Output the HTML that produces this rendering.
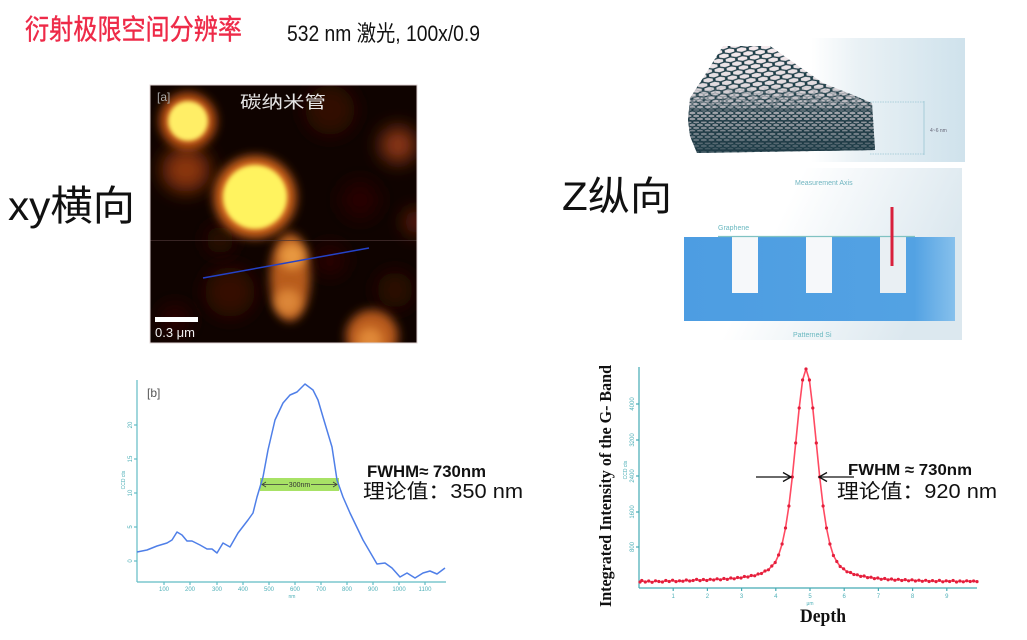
<!DOCTYPE html>
<html>
<head>
<meta charset="utf-8">
<style>
  html,body{margin:0;padding:0;background:#ffffff;}
  body{width:1027px;height:640px;overflow:hidden;position:relative;}
  svg{display:block;}
  .cjk{font-family:"Liberation Sans","Noto Sans CJK SC",sans-serif;}
  .tick{font-family:"Liberation Sans",sans-serif;font-size:6px;fill:#4fb0b8;}
</style>
</head>
<body>
<svg width="1027" height="640" viewBox="0 0 1027 640" xmlns="http://www.w3.org/2000/svg">
  <defs>
    <filter id="bS" x="-50%" y="-50%" width="200%" height="200%"><feGaussianBlur stdDeviation="2"/></filter>
    <filter id="bM" x="-50%" y="-50%" width="200%" height="200%"><feGaussianBlur stdDeviation="5"/></filter>
    <filter id="bL" x="-80%" y="-80%" width="260%" height="260%"><feGaussianBlur stdDeviation="9"/></filter>
    <clipPath id="afmClip"><rect x="150" y="85" width="267" height="258"/></clipPath>
    <linearGradient id="gPanel" x1="0" y1="0" x2="1" y2="0">
      <stop offset="0" stop-color="#ffffff"/>
      <stop offset="0.45" stop-color="#ffffff"/>
      <stop offset="0.62" stop-color="#e9f1f5"/>
      <stop offset="1" stop-color="#cfe2ec"/>
    </linearGradient>
    <linearGradient id="gPanel2" x1="0" y1="0" x2="1" y2="0.3">
      <stop offset="0" stop-color="#ffffff"/>
      <stop offset="0.4" stop-color="#ffffff"/>
      <stop offset="1" stop-color="#dce8ef"/>
    </linearGradient>
    <linearGradient id="gBlue" x1="0" y1="0" x2="1" y2="0">
      <stop offset="0" stop-color="#4d9de2"/>
      <stop offset="0.85" stop-color="#53a2e3"/>
      <stop offset="1" stop-color="#86c0ec"/>
    </linearGradient>
    <linearGradient id="gDark" gradientUnits="userSpaceOnUse" x1="0" y1="45" x2="0" y2="153">
      <stop offset="0" stop-color="#1c3b46" stop-opacity="0"/>
      <stop offset="0.4" stop-color="#1c3b46" stop-opacity="0.1"/>
      <stop offset="0.75" stop-color="#1c3b46" stop-opacity="0.45"/>
      <stop offset="1" stop-color="#1c3b46" stop-opacity="0.85"/>
    </linearGradient>
    <pattern id="hexA" patternUnits="userSpaceOnUse" width="6.93" height="12" patternTransform="translate(723,47) rotate(-6) scale(1.75,0.75)">
      <rect width="6.93" height="12" fill="#f6ecef"/>
      <path d="M3.46,2 L6.93,4 L6.93,8 L3.46,10 L0,8 L0,4 Z M3.46,0 L3.46,2 M3.46,10 L3.46,12" fill="none" stroke="#1f3e48" stroke-width="1.5"/>
    </pattern>
    <pattern id="hexB" patternUnits="userSpaceOnUse" width="6.93" height="12" patternTransform="translate(700,95) scale(1.1,0.5)">
      <rect width="6.93" height="12" fill="#e2d6db"/>
      <path d="M3.46,2 L6.93,4 L6.93,8 L3.46,10 L0,8 L0,4 Z M3.46,0 L3.46,2 M3.46,10 L3.46,12" fill="none" stroke="#1e3a44" stroke-width="1.9"/>
    </pattern>
    <linearGradient id="gMaskB" gradientUnits="userSpaceOnUse" x1="0" y1="85" x2="0" y2="115">
      <stop offset="0" stop-color="#fff" stop-opacity="0"/>
      <stop offset="1" stop-color="#fff" stop-opacity="1"/>
    </linearGradient>
    <mask id="maskB"><rect x="680" y="38" width="200" height="120" fill="url(#gMaskB)"/></mask>
    <clipPath id="stackClip">
      <polygon points="723,46 770,46 797,65 823,83 853,95 872,103 875,150 697,153 690,136 688,120 690,98 703,78"/>
    </clipPath>
    <marker id="dot" viewBox="0 0 4 4" refX="2" refY="2" markerWidth="4" markerHeight="4" markerUnits="userSpaceOnUse">
      <circle cx="2" cy="2" r="1.6" fill="#e41f3c"/>
    </marker>
  </defs>

  <!-- Title -->
  <text class="cjk" x="25" y="39" font-size="28" fill="#ee2a48" stroke="#ee2a48" stroke-width="0.4" textLength="217" lengthAdjust="spacingAndGlyphs">衍射极限空间分辨率</text>
  <text class="cjk" x="287" y="41" font-size="22" fill="#111" textLength="193" lengthAdjust="spacingAndGlyphs">532 nm 激光, 100x/0.9</text>

  <!-- Side labels -->
  <text class="cjk" x="8" y="220" font-size="41" fill="#111" textLength="127" lengthAdjust="spacingAndGlyphs">xy横向</text>
  <text class="cjk" x="562" y="210" font-size="40" fill="#111" textLength="110" lengthAdjust="spacingAndGlyphs">Z纵向</text>

  <!-- AFM image -->
  <g clip-path="url(#afmClip)">
    <rect x="150" y="85" width="267" height="258" fill="#0f0300"/>
    <circle cx="330" cy="110" r="25" fill="#300700" filter="url(#bL)"/>
    <circle cx="230" cy="292" r="25" fill="#340900" filter="url(#bL)"/>
    <circle cx="175" cy="320" r="16" fill="#2c0600" filter="url(#bL)"/>
    <circle cx="360" cy="200" r="20" fill="#280500" filter="url(#bL)"/>
    <circle cx="395" cy="290" r="18" fill="#2e0700" filter="url(#bL)"/>
    <circle cx="220" cy="240" r="14" fill="#2e0700" filter="url(#bL)"/>
    <circle cx="330" cy="260" r="16" fill="#2a0600" filter="url(#bL)"/>
    <ellipse cx="186" cy="170" rx="24" ry="22" fill="#8a3410" filter="url(#bL)"/>
    <circle cx="188" cy="121" r="28" fill="#c85818" filter="url(#bM)"/>
    <circle cx="188" cy="121" r="20" fill="#ffee66" filter="url(#bS)"/>
    <circle cx="255" cy="197" r="41" fill="#d4661a" filter="url(#bM)"/>
    <circle cx="255" cy="197" r="32" fill="#fff35e" filter="url(#bS)"/>
    <ellipse cx="290" cy="277" rx="20" ry="44" fill="#b85c1c" filter="url(#bM)"/>
    <circle cx="292" cy="256" r="13" fill="#e8983f" filter="url(#bM)"/>
    <circle cx="288" cy="302" r="13" fill="#dc8638" filter="url(#bM)"/>
    <circle cx="398" cy="145" r="18" fill="#8e3812" filter="url(#bL)"/>
    <circle cx="372" cy="336" r="26" fill="#b85a1c" filter="url(#bM)"/>
    <circle cx="370" cy="340" r="13" fill="#e08838" filter="url(#bM)"/>
    <circle cx="416" cy="222" r="12" fill="#6a2008" filter="url(#bL)"/>
    <line x1="150" y1="240.5" x2="417" y2="240.5" stroke="#4a3434" stroke-width="1" opacity="0.7"/>
    <line x1="203" y1="278" x2="369" y2="248" stroke="#2442c8" stroke-width="1.5"/>
    <rect x="155" y="317" width="43" height="5" fill="#ffffff"/>
    <text x="155" y="337" font-family="Liberation Sans,sans-serif" font-size="13" fill="#f0f0f0">0.3 μm</text>
    <text x="157" y="101" font-family="Liberation Sans,sans-serif" font-size="12" fill="#a8a8a8">[a]</text>
    <text class="cjk" x="240" y="108" font-size="17" fill="#e4e4e4" textLength="86" lengthAdjust="spacingAndGlyphs">碳纳米管</text>
  </g>
  <rect x="150" y="85" width="267" height="258" fill="none" stroke="#e0d6d6" stroke-width="1"/>

  <!-- Graphene stack panel -->
  <rect x="685" y="38" width="280" height="124" fill="url(#gPanel)"/>
  <g clip-path="url(#stackClip)">
    <rect x="680" y="38" width="200" height="120" fill="url(#hexA)"/>
    <rect x="680" y="38" width="200" height="120" fill="url(#hexB)" mask="url(#maskB)"/>
    <rect x="680" y="38" width="200" height="120" fill="url(#gDark)"/>
    <g stroke="#1e3a44" stroke-width="1.6" opacity="0.75">
      <line x1="688" y1="110" x2="873" y2="110"/>
      <line x1="688" y1="121" x2="874" y2="121"/>
      <line x1="690" y1="132" x2="874" y2="132"/>
      <line x1="692" y1="142" x2="875" y2="142"/>
      <line x1="696" y1="150" x2="875" y2="150"/>
    </g>
  </g>
  <g stroke="#9cc6d4" stroke-width="0.8">
    <line x1="870" y1="102" x2="925" y2="102" stroke-dasharray="1.5 1"/>
    <line x1="870" y1="154" x2="925" y2="154" stroke-dasharray="1.5 1"/>
    <line x1="924" y1="101" x2="924" y2="155"/>
  </g>
  <text x="930" y="132" font-family="Liberation Sans,sans-serif" font-size="5" fill="#667">4~6 nm</text>

  <!-- Measurement axis panel -->
  <rect x="683" y="168" width="279" height="172" fill="url(#gPanel2)"/>
  <rect x="684" y="237" width="271" height="84" fill="url(#gBlue)"/>
  <rect x="732" y="237" width="26" height="56" fill="#f6f8fa"/>
  <rect x="806" y="237" width="26" height="56" fill="#f6f8fa"/>
  <rect x="880" y="237" width="26" height="56" fill="#e9eff3"/>
  <line x1="718" y1="236.5" x2="915" y2="236.5" stroke="#80c2c2" stroke-width="1.3"/>
  <line x1="892" y1="207" x2="892" y2="266" stroke="#d8203c" stroke-width="3"/>
  <text x="718" y="230" font-family="Liberation Sans,sans-serif" font-size="7" fill="#6ab8c0">Graphene</text>
  <text x="795" y="185" font-family="Liberation Sans,sans-serif" font-size="7" fill="#70b5c0">Measurement Axis</text>
  <text x="793" y="337" font-family="Liberation Sans,sans-serif" font-size="7" fill="#6ab8c0">Patterned Si</text>

  <!-- Left chart -->
  <g stroke="#62bcc4" stroke-width="1.2" fill="none">
    <line x1="137" y1="380" x2="137" y2="582"/>
    <line x1="137" y1="582" x2="446" y2="582"/>
    <line x1="164" y1="582" x2="164" y2="585"/>
    <line x1="190" y1="582" x2="190" y2="585"/>
    <line x1="217" y1="582" x2="217" y2="585"/>
    <line x1="243" y1="582" x2="243" y2="585"/>
    <line x1="269" y1="582" x2="269" y2="585"/>
    <line x1="295" y1="582" x2="295" y2="585"/>
    <line x1="321" y1="582" x2="321" y2="585"/>
    <line x1="347" y1="582" x2="347" y2="585"/>
    <line x1="373" y1="582" x2="373" y2="585"/>
    <line x1="399" y1="582" x2="399" y2="585"/>
    <line x1="425" y1="582" x2="425" y2="585"/>
    <line x1="134" y1="425" x2="137" y2="425"/>
    <line x1="134" y1="459" x2="137" y2="459"/>
    <line x1="134" y1="493" x2="137" y2="493"/>
    <line x1="134" y1="527" x2="137" y2="527"/>
    <line x1="134" y1="561" x2="137" y2="561"/>
  </g>
  <g class="tick" text-anchor="middle">
    <text x="164" y="591">100</text><text x="190" y="591">200</text><text x="217" y="591">300</text>
    <text x="243" y="591">400</text><text x="269" y="591">500</text><text x="295" y="591">600</text>
    <text x="321" y="591">700</text><text x="347" y="591">800</text><text x="373" y="591">900</text>
    <text x="399" y="591">1000</text><text x="425" y="591">1100</text>
    <text x="292" y="598" font-size="5">nm</text>
    <text transform="translate(132,425) rotate(-90)">20</text>
    <text transform="translate(132,459) rotate(-90)">15</text>
    <text transform="translate(132,493) rotate(-90)">10</text>
    <text transform="translate(132,527) rotate(-90)">5</text>
    <text transform="translate(132,561) rotate(-90)">0</text>
    <text transform="translate(125,480) rotate(-90)" font-size="5">CCD cts</text>
  </g>
  <text x="147" y="397" font-family="Liberation Sans,sans-serif" font-size="12" fill="#555">[b]</text>
  <rect x="260" y="478" width="79" height="13" fill="#a8e266"/>
  <g stroke="#3a3a3a" stroke-width="0.8" fill="none">
    <line x1="262" y1="484.5" x2="288" y2="484.5"/>
    <polyline points="266,482 262,484.5 266,487"/>
    <line x1="311" y1="484.5" x2="337" y2="484.5"/>
    <polyline points="333,482 337,484.5 333,487"/>
  </g>
  <text x="299.5" y="487" text-anchor="middle" font-family="Liberation Sans,sans-serif" font-size="7" fill="#333">300nm</text>
  <polyline fill="none" stroke="#4f7fe8" stroke-width="1.5" stroke-linejoin="round"
    points="137,552 147,550 157,546 167,543 172,540 177,532 182,535 187,541 192,541 200,545 207,549 212,549 217,553 223,543 230,547 238,533 248,520 253,513 257,497 263,477 268,450 275,420 283,403 290,395 297,392 305,384 313,390 318,400 323,417 332,447 337,480 343,497 350,513 363,540 377,564 385,563 392,568 400,577 407,573 415,578 423,573 430,571 437,574 445,568"/>
  <text x="367" y="477" font-family="Liberation Sans,sans-serif" font-weight="bold" font-size="16.5" fill="#111" textLength="119" lengthAdjust="spacingAndGlyphs">FWHM≈ 730nm</text>
  <text class="cjk" x="363" y="498" font-size="20" fill="#111" textLength="160" lengthAdjust="spacingAndGlyphs">理论值：350 nm</text>

  <!-- Right chart -->
  <g stroke="#44aab3" stroke-width="1.2" fill="none">
    <line x1="639" y1="367" x2="639" y2="588"/>
    <line x1="639" y1="588" x2="977" y2="588"/>
    <line x1="673.2" y1="588" x2="673.2" y2="591"/>
    <line x1="707.4" y1="588" x2="707.4" y2="591"/>
    <line x1="741.6" y1="588" x2="741.6" y2="591"/>
    <line x1="775.8" y1="588" x2="775.8" y2="591"/>
    <line x1="810" y1="588" x2="810" y2="591"/>
    <line x1="844.2" y1="588" x2="844.2" y2="591"/>
    <line x1="878.4" y1="588" x2="878.4" y2="591"/>
    <line x1="912.6" y1="588" x2="912.6" y2="591"/>
    <line x1="946.8" y1="588" x2="946.8" y2="591"/>
    <line x1="636" y1="404" x2="639" y2="404"/>
    <line x1="636" y1="440" x2="639" y2="440"/>
    <line x1="636" y1="476" x2="639" y2="476"/>
    <line x1="636" y1="512" x2="639" y2="512"/>
    <line x1="636" y1="547" x2="639" y2="547"/>
  </g>
  <g class="tick" text-anchor="middle">
    <text x="673.2" y="598">1</text><text x="707.4" y="598">2</text><text x="741.6" y="598">3</text>
    <text x="775.8" y="598">4</text><text x="810" y="598">5</text><text x="844.2" y="598">6</text>
    <text x="878.4" y="598">7</text><text x="912.6" y="598">8</text><text x="946.8" y="598">9</text>
    <text x="810" y="605" font-size="5">μm</text>
    <text transform="translate(634,404) rotate(-90)">4000</text>
    <text transform="translate(634,440) rotate(-90)">3200</text>
    <text transform="translate(634,476) rotate(-90)">2400</text>
    <text transform="translate(634,512) rotate(-90)">1600</text>
    <text transform="translate(634,547) rotate(-90)">800</text>
    <text transform="translate(627,470) rotate(-90)" font-size="5">CCD cts</text>
  </g>
  <polyline fill="none" stroke="#ff4a62" stroke-width="1.6" stroke-linejoin="round"
    marker-start="url(#dot)" marker-mid="url(#dot)" marker-end="url(#dot)"
    points="640,582 641.8,580.5 645.3,582 648.7,581 652.1,582.3 655.5,580.8 658.9,581.5 662.4,582 665.8,580.5 669.2,581.5 672.6,580.2 676,581.6 679.5,580.8 682.9,581.2 686.3,580 689.7,581 693.1,580.5 696.6,579.4 700,580.6 703.4,579.5 706.8,580.5 710.2,579.3 713.7,580 717.1,578.8 720.5,579.8 723.9,578.5 727.3,579.4 730.8,578 734.2,578.8 737.6,577.5 741,578 744.4,576.5 747.9,577 751.3,575.5 754.7,575.8 758.1,574 761.5,573.5 765,571 768.4,569.8 771.8,566 775.2,562.5 778.6,555 782.1,544 785.5,528 788.9,506 792.3,477 795.7,443 799.2,408 802.6,380 806,369 809.4,380 812.8,408 816.3,443 819.7,477 823.1,506 826.5,528 829.9,544 833.4,555.5 836.8,561.5 840.2,566.5 843.6,568.8 847,571.8 850.5,572.5 853.9,574.5 857.3,574.8 860.7,576.4 864.1,576 867.6,577.6 871,577.2 874.4,578.6 877.8,578 881.2,579.3 884.7,578.5 888.1,579.8 891.5,579 894.9,580.2 898.3,579.3 901.8,580.5 905.2,579.6 908.6,580.8 912,579.8 915.4,581 918.9,580.2 922.3,581.3 925.7,580.3 929.1,581.5 932.5,580.6 936,581.6 939.4,580.4 942.8,581.8 946.2,580.8 949.6,581.5 953.1,580.5 956.5,582 959.9,581 963.3,581.8 966.7,580.8 970.2,581.5 973.6,581 977,581.6"/>
  <g stroke="#111" stroke-width="1.3" fill="none">
    <line x1="756" y1="477" x2="791" y2="477"/>
    <polyline points="783,472.5 791,477 783,481.5"/>
    <line x1="819" y1="477" x2="854" y2="477"/>
    <polyline points="827,472.5 819,477 827,481.5"/>
  </g>
  <text x="848" y="475" font-family="Liberation Sans,sans-serif" font-weight="bold" font-size="16" fill="#111" textLength="124" lengthAdjust="spacingAndGlyphs">FWHM ≈ 730nm</text>
  <text class="cjk" x="837" y="498" font-size="20" fill="#111" textLength="160" lengthAdjust="spacingAndGlyphs">理论值：920 nm</text>
  <text transform="translate(611,486) rotate(-90)" text-anchor="middle" font-family="Liberation Serif,serif" font-weight="bold" font-size="17" fill="#111" textLength="242" lengthAdjust="spacingAndGlyphs">Integrated Intensity of the G- Band</text>
  <text x="800" y="622" font-family="Liberation Serif,serif" font-weight="bold" font-size="19" fill="#111" textLength="46" lengthAdjust="spacingAndGlyphs">Depth</text>
</svg>
</body>
</html>
